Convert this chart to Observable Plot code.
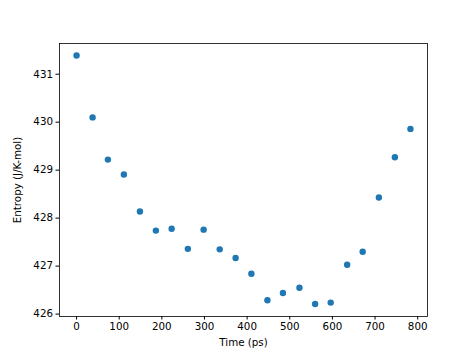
<!DOCTYPE html>
<html>
<head>
<meta charset="utf-8">
<script src="https://cdn.jsdelivr.net/npm/d3@7"></script>
<script src="https://cdn.jsdelivr.net/npm/@observablehq/plot@0.6"></script>
<style>
  html, body { margin: 0; padding: 0; background: #fff; }
  #chart svg { display: block; }
</style>
</head>
<body>
<div id="chart"></div>
<script>
const time = [0, 37.6, 73.5, 111, 148.6, 186, 223, 261, 298, 335.7, 373, 410, 447.6, 484, 522.7, 559.5, 596, 634.6, 671, 709, 746.5, 783];
const entropy = [431.39, 430.10, 429.22, 428.91, 428.14, 427.74, 427.78, 427.36, 427.76, 427.35, 427.17, 426.84, 426.29, 426.44, 426.55, 426.21, 426.24, 427.03, 427.30, 428.43, 429.27, 429.86];
const xTicks = [0, 100, 200, 300, 400, 500, 600, 700, 800];
const yTicks = [426, 427, 428, 429, 430, 431];

const data = time.map((t, i) => ({t, s: entropy[i]}));

const chart = Plot.plot({
  width: 474,
  height: 355,
  marginLeft: 59,
  marginRight: 47,
  marginTop: 43,
  marginBottom: 39,
  style: {fontFamily: "DejaVu Sans", fontSize: "10.3px", color: "#000", background: "#fff"},
  x: {domain: [-40, 823]},
  y: {domain: [425.95, 431.64]},
  marks: [
    Plot.axisX({ticks: xTicks, tickSize: 3.5, tickPadding: 3, tickFormat: d => String(d), label: "Time (ps)", labelAnchor: "center", labelArrow: "none", labelOffset: 29, fontSize: "10.3px"}),
    Plot.axisY({ticks: yTicks, tickSize: 3.5, tickPadding: 3, tickFormat: d => String(d), label: "Entropy (J/K-mol)", labelAnchor: "center", labelArrow: "none", labelOffset: 46, fontSize: "10.3px"}),
    Plot.frame({stroke: "#000", strokeWidth: 0.8}),
    Plot.dot(data, {x: "t", y: "s", r: 3.2, fill: "#1f77b4", stroke: "none"})
  ]
});
document.getElementById("chart").appendChild(chart);
</script>
</body>
</html>
